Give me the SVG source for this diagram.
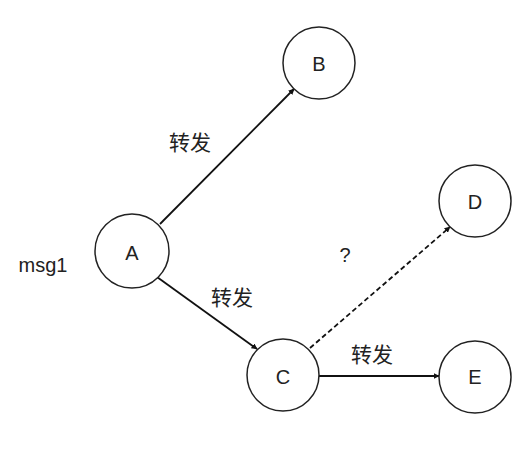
<svg xmlns="http://www.w3.org/2000/svg" width="524" height="451" viewBox="0 0 524 451">
<style>
.node circle{fill:#fff;stroke:#222;stroke-width:1.5}
.lbl{font-family:"Liberation Sans","Noto Sans CJK SC",sans-serif;font-size:20px;fill:#222;text-anchor:middle;dominant-baseline:central}
.cjk{font-family:"Noto Sans CJK SC",sans-serif;font-size:21px;fill:#222;text-anchor:middle;dominant-baseline:central}
.edge{stroke:#111;stroke-width:1.8;fill:none}
.dash{stroke-dasharray:5,3}
</style>
<defs>
<marker id="arr" viewBox="0 0 10 10" refX="9" refY="5" markerWidth="6" markerHeight="6" markerUnits="userSpaceOnUse" orient="auto"><path d="M0,0 L10,5 L0,10 z" fill="#111"/></marker>
</defs>
<rect width="524" height="451" fill="#fff"/>
<g id="connectors">
<line class="edge" x1="160" y1="224" x2="294" y2="89" marker-end="url(#arr)"/>
<line class="edge" x1="157" y1="277" x2="257" y2="349" marker-end="url(#arr)"/>
<line class="edge dash" x1="310" y1="348" x2="450" y2="227" marker-end="url(#arr)"/>
<line class="edge" x1="319" y1="376" x2="439" y2="376" marker-end="url(#arr)"/>
</g>
<g id="labels">
<text class="cjk" x="190" y="141">转发</text>
<text class="cjk" x="232" y="296">转发</text>
<text class="cjk" x="372" y="353">转发</text>
<text class="lbl" x="345" y="255">?</text>
<text class="lbl" x="43" y="265">msg1</text>
</g>
<g id="A" class="node"><circle cx="132" cy="251" r="37"/><text class="lbl" x="132" y="253">A</text></g>
<g id="B" class="node"><circle cx="319" cy="63" r="36"/><text class="lbl" x="319" y="64">B</text></g>
<g id="C" class="node"><circle cx="283" cy="375" r="36"/><text class="lbl" x="283" y="377">C</text></g>
<g id="D" class="node"><circle cx="475" cy="201" r="36"/><text class="lbl" x="475" y="202">D</text></g>
<g id="E" class="node"><circle cx="475" cy="377" r="36"/><text class="lbl" x="475" y="377">E</text></g>
</svg>
